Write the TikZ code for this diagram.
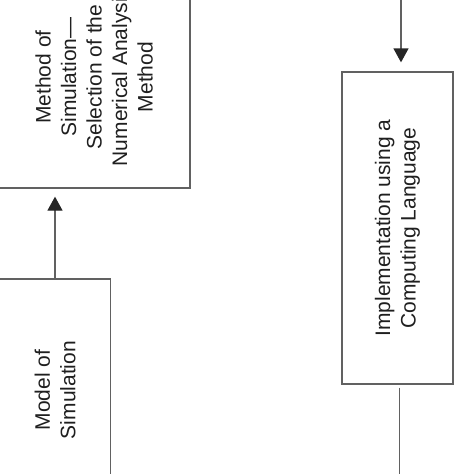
\documentclass[tikz,border=0pt]{standalone}
\usepackage{fontspec}
\setmainfont{Liberation Sans}
\usetikzlibrary{arrows.meta}
\begin{document}
\begin{tikzpicture}[x=1pt, y=-1pt,
		box/.style={draw=black!62, line width=1.3pt, rotate=90, align=center, text=black!88, inner sep=0pt, font=\fontsize{21}{25.5}\selectfont},
		arr/.style={draw=black!62, line width=1.3pt, -{Triangle[length=14pt, width=15pt, fill=black!85, color=black!85]}}]
			\useasboundingbox (0, 0) rectangle (474, 474);
			\clip (0, 0) rectangle (474, 474);
			% rotated boxes: minimum width runs up the page, east is the top side
			\node[box, minimum width=222, minimum height=192] (method) at (94, 77) {Method of\\Simulation---\\Selection of the\\Numerical Analysis\\Method};
			\node[box, minimum width=222, minimum height=111] (model) at (55, 390) {Model of\\Simulation};
			\node[box, minimum width=312, minimum height=111] (impl) at (397.5, 228) {Implementation using a\\Computing Language};
			\coordinate (in) at (401, -5);
			\coordinate (out) at (399.5, 480);
			\draw[arr, shorten >=8pt] (model.east) -- (model.east |- method.west);
			\draw[arr, shorten >=9pt] (in) -- (in |- impl.east);
			\draw[draw=black!62, line width=1.3pt, shorten <=3pt] (impl.west -| out) -- (out);
		\end{tikzpicture}
\end{document}
